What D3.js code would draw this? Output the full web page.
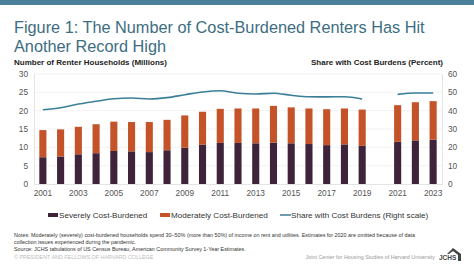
<!DOCTYPE html>
<html>
<head>
<meta charset="utf-8">
<script src="https://cdn.jsdelivr.net/npm/d3@7"></script>
<style>
    body { margin: 0; background: #fff; }
    svg { display: block; font-family: "Liberation Sans", Arial, sans-serif; }
</style>
</head>
<body>
<svg id="chart"></svg>
<script>
// values
const years = [2001, 2002, 2003, 2004, 2005, 2006, 2007, 2008, 2009, 2010, 2011, 2012,
               2013, 2014, 2015, 2016, 2017, 2018, 2019, 2020, 2021, 2022, 2023];
const severe = [7.3, 7.5, 8.1, 8.4, 9.0, 8.9, 8.7, 9.2, 9.9, 10.7, 11.2, 11.2,
                11.1, 11.3, 11.1, 10.9, 10.6, 10.8, 10.4, null, 11.5, 11.9, 12.1];
const moderate = [7.4, 7.4, 7.5, 7.9, 8.0, 8.0, 8.2, 8.3, 8.8, 9.0, 9.3, 9.4,
                  9.5, 10.0, 9.8, 9.7, 9.8, 9.8, 9.9, null, 10.0, 10.4, 10.5];
const share = [40.5, 41.6, 43.6, 45.1, 46.5, 46.9, 46.4, 47.1, 48.7, 50.2, 50.9, 49.5,
               49.1, 49.5, 48.4, 47.6, 47.5, 47.6, 46.4, null, 48.9, 49.6, 49.6];
const leftTicks = [0, 5, 10, 15, 20, 25, 30];
const rightTicks = [0, 10, 20, 30, 40, 50, 60];
const xTickYears = [2001, 2003, 2005, 2007, 2009, 2011, 2013, 2015, 2017, 2019, 2021, 2023];

const colors = { severe: '#3f2339', moderate: '#c4532a', share: '#3b7f97' };

class BurdenChart {

    constructor( config ) {
        this.config = {
            parent: config.parent,
            width: config.width || 474,
            height: config.height || 265,
            margin: config.margin || {top:74, right:32, bottom:81, left:34}
        }
        this.init();
    }

    init() {
        let self = this;

        self.svg = d3.select( self.config.parent )
            .attr('width', self.config.width)
            .attr('height', self.config.height);

        self.inner_width = self.config.width - self.config.margin.left - self.config.margin.right;
        self.inner_height = self.config.height - self.config.margin.top - self.config.margin.bottom;

        self.chart = self.svg.append('g')
            .attr('transform', `translate(${self.config.margin.left}, ${self.config.margin.top})`);

        self.xscale = d3.scaleBand()
            .domain( years )
            .range( [0, self.inner_width] )
            .paddingInner(0.6)
            .paddingOuter(0.3);

        self.yscale = d3.scaleLinear()
            .domain( [0, 30] )
            .range( [self.inner_height, 0] );

        self.y2scale = d3.scaleLinear()
            .domain( [0, 60] )
            .range( [self.inner_height, 0] );

        // header band and title
        self.svg.append('rect')
            .attr('width', self.config.width)
            .attr('height', 5)
            .attr('fill', '#4a8099');

        const title = self.svg.append('text')
            .style('font-size', '16.3px')
            .attr('fill', '#3d6d82')
            .attr('x', 14);
        title.append('tspan').attr('x', 14).attr('y', 32.5)
            .text('Figure 1: The Number of Cost-Burdened Renters Has Hit');
        title.append('tspan').attr('x', 14).attr('y', 51.5)
            .text('Another Record High');

        self.svg.append('text')
            .style('font-size', '8px')
            .style('font-weight', 'bold')
            .attr('fill', '#222')
            .attr('x', 14)
            .attr('y', 65)
            .text('Number of Renter Households (Millions)');

        self.svg.append('text')
            .style('font-size', '8px')
            .style('font-weight', 'bold')
            .attr('fill', '#222')
            .attr('text-anchor', 'end')
            .attr('x', 443)
            .attr('y', 65)
            .text('Share with Cost Burdens (Percent)');
    }

    render() {
        let self = this;
        const ih = self.inner_height, iw = self.inner_width;

        // grid lines
        self.chart.append('g')
            .selectAll('line')
            .data( leftTicks.slice(1) )
            .join('line')
            .attr('x1', 0).attr('x2', iw)
            .attr('y1', d => self.yscale(d))
            .attr('y2', d => self.yscale(d))
            .attr('stroke', '#f0f0f0')
            .attr('stroke-width', 0.8);

        const yaxis = d3.axisLeft( self.yscale ).tickValues(leftTicks).tickSize(0).tickPadding(6);
        const y2axis = d3.axisRight( self.y2scale ).tickValues(rightTicks).tickSize(0).tickPadding(6);
        const xaxis = d3.axisBottom( self.xscale ).tickValues(xTickYears).tickSize(0).tickPadding(6);

        const styleAxis = g => {
            g.select('.domain').attr('stroke', '#ddd').attr('stroke-width', 0.8);
            g.selectAll('text')
                .attr('fill', '#555')
                .style('font-size', '8.3px')
                .style('font-family', '"Liberation Sans", Arial, sans-serif');
        };

        self.chart.append('g').call(yaxis).call(styleAxis);
        self.chart.append('g')
            .attr('transform', `translate(${iw}, 0)`)
            .call(y2axis).call(styleAxis);
        self.chart.append('g')
            .attr('transform', `translate(0, ${ih})`)
            .call(xaxis).call(styleAxis);

        // stacked bars
        const rows = years.map((y, i) => ({ year: y, severe: severe[i], moderate: moderate[i], share: share[i] }))
        const barRows = rows.filter(d => d.severe != null);

        self.chart.append('g')
            .selectAll('rect')
            .data( barRows )
            .join('rect')
            .attr('x', d => self.xscale(d.year))
            .attr('width', self.xscale.bandwidth())
            .attr('y', d => self.yscale(d.severe))
            .attr('height', d => ih - self.yscale(d.severe))
            .attr('fill', colors.severe);

        self.chart.append('g')
            .selectAll('rect')
            .data( barRows )
            .join('rect')
            .attr('x', d => self.xscale(d.year))
            .attr('width', self.xscale.bandwidth())
            .attr('y', d => self.yscale(d.severe + d.moderate))
            .attr('height', d => self.yscale(d.severe) - self.yscale(d.severe + d.moderate))
            .attr('fill', colors.moderate);

        // share line, broken at 2020
        const line = d3.line()
            .defined(d => d.share != null)
            .x(d => self.xscale(d.year) + self.xscale.bandwidth() / 2)
            .y(d => self.y2scale(d.share))
            .curve(d3.curveMonotoneX);

        self.chart.append('path')
            .datum( rows )
            .attr('d', line)
            .attr('fill', 'none')
            .attr('stroke', colors.share)
            .attr('stroke-width', 1.6);

        // legend
        const legend = self.svg.append('g').attr('transform', 'translate(0, 215)');
        const items = [
            { label: 'Severely Cost-Burdened', x: 48, type: 'rect', color: colors.severe },
            { label: 'Moderately Cost-Burdened', x: 160, type: 'rect', color: colors.moderate },
            { label: 'Share with Cost Burdens (Right scale)', x: 280, type: 'line', color: colors.share }
        ];
        items.forEach(it => {
            if (it.type === 'rect') {
                legend.append('rect').attr('x', it.x).attr('y', -2).attr('width', 10).attr('height', 4).attr('fill', it.color);
            } else {
                legend.append('line').attr('x1', it.x).attr('x2', it.x + 11).attr('y1', 0).attr('y2', 0)
                    .attr('stroke', it.color).attr('stroke-width', 1.5);
            }
            legend.append('text')
                .attr('x', it.x + 11)
                .attr('y', 3)
                .style('font-size', '8.1px')
                .attr('fill', '#333')
                .text(it.label);
        });

        // notes
        const notes = [
            'Notes: Moderately (severely) cost-burdened households spend 30–50% (more than 50%) of income on rent and utilities. Estimates for 2020 are omitted because of data',
            'collection issues experienced during the pandemic.',
            'Source: JCHS tabulations of US Census Bureau, American Community Survey 1-Year Estimates.'
        ];
        self.svg.append('g')
            .selectAll('text')
            .data(notes)
            .join('text')
            .attr('x', 14)
            .attr('y', (d, i) => [237, 243.5, 250.5][i])
            .style('font-size', '5.4px')
            .attr('fill', '#333')
            .text(d => d);

        self.svg.append('text')
            .attr('x', 14).attr('y', 259)
            .style('font-size', '5.4px')
            .attr('fill', '#bbb')
            .text('© PRESIDENT AND FELLOWS OF HARVARD COLLEGE');

        self.svg.append('text')
            .attr('x', 435).attr('y', 259)
            .attr('text-anchor', 'end')
            .style('font-size', '5.4px')
            .attr('fill', '#999')
            .text('Joint Center for Housing Studies of Harvard University');

        // JCHS logo
        const logo = self.svg.append('g').attr('transform', 'translate(439, 0)');
        logo.append('path')
            .attr('d', 'M8,254 L14,248 L22,254 L22,261 L19,261 L19,255 L14,251 L10,254 Z')
            .attr('fill', '#444');
        logo.append('text')
            .attr('x', 0).attr('y', 260)
            .style('font-size', '6.5px')
            .style('font-weight', 'bold')
            .attr('fill', '#444')
            .text('JCHS');
    }
}

const chart = new BurdenChart({ parent: '#chart' });
chart.render();
</script>
</body>
</html>
